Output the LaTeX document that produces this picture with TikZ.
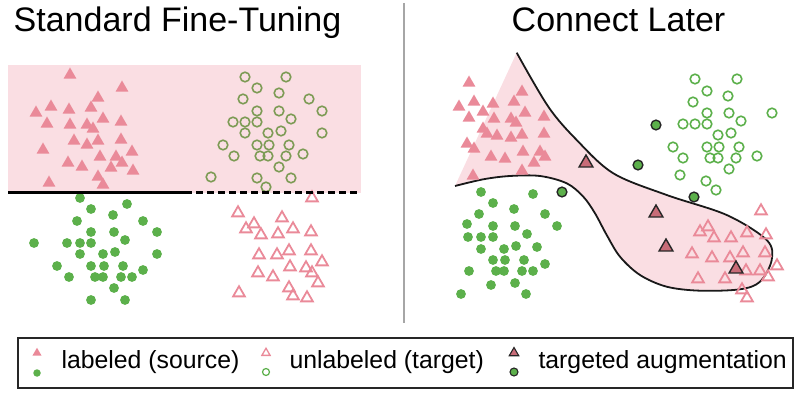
\documentclass[tikz,border=0pt]{standalone}
\usepackage{fontspec}
\setmainfont{Liberation Sans}
\usepackage{xcolor}
\usepackage{tikz}
\usetikzlibrary{shapes.geometric}

\definecolor{ptpink}{RGB}{234,138,153}
\definecolor{bgpink}{RGB}{250,222,227}
\definecolor{ptgreen}{RGB}{92,176,75}
\definecolor{ptolive}{RGB}{125,155,85}
\definecolor{augpink}{RGB}{200,108,120}

\begin{document}
\begin{tikzpicture}[x=1pt, y=-1pt,
  srctri/.style={regular polygon, regular polygon sides=3, fill=ptpink,
                 inner sep=0pt, minimum size=15pt},
  tgttri/.style={regular polygon, regular polygon sides=3, draw=ptpink,
                 line width=1.8pt, inner sep=0pt, minimum size=13.5pt},
  srcdot/.style={circle, fill=ptgreen, inner sep=0pt, minimum size=9.8pt},
  tgtdot/.style={circle, draw=ptgreen, line width=1.6pt, inner sep=0pt,
                 minimum size=9.6pt},
  augtri/.style={regular polygon, regular polygon sides=3, fill=augpink,
                 draw=black!85, line width=1.4pt, inner sep=0pt, minimum size=16pt},
  augdot/.style={circle, fill=ptgreen, draw=black!85, line width=1.4pt,
                 inner sep=0pt, minimum size=9.8pt},
  title/.style={font=\fontsize{34}{40}\selectfont, anchor=base},
  lgd/.style={font=\fontsize{24.8}{30}\selectfont, anchor=base west}
]
\useasboundingbox (0,0) rectangle (804,398);

% titles and divider
\node[title] (ttl) at (177.5,32) {Standard Fine-Tuning};
\node[title] (ttr) at (618.5,32) {Connect Later};
\draw[gray!70, line width=1.5pt] (404,3) -- (404,323);

% left panel: standard fine-tuning
\fill[bgpink] (8,65) rectangle (361,193);
\foreach \p [count=\i] in {(70,75),(122,88),(98,98),(36,113),(51,107),(69,110),
    (91,108),(47,124),(70,125),(87,125),(93,129),(103,119),(121,122),(74,141),
    (87,145),(98,141),(121,140),(43,150),(100,157),(116,157),(132,152),(68,163),
    (82,167),(111,168),(122,163),(133,171),(49,183),(98,177),(103,185)}
  \node[srctri] (lst\i) at \p {};
\foreach \p [count=\i] in {(245,77),(286,77),(257,88),(279,93),(243,99),(309,99),
    (257,111),(279,111),(322,111),(233,122),(245,122),(257,122),(291,119),
    (245,133),(268,133),(281,131),(322,133),(223,145),(257,145),(269,145),
    (289,145),(234,156),(260,156),(268,156),(286,156),(303,154),(279,167),
    (211,177),(257,178),(291,178),(266,187)}
  \node[tgtdot, draw=ptolive] (ltc\i) at \p {};
\foreach \p [count=\i] in {(80,198),(127,204),(91,209),(113,215),(77,221),(143,221),
    (91,232),(114,232),(157,232),(34,243),(67,243),(80,243),(91,243),(125,240),
    (80,254),(103,254),(115,252),(157,254),(57,266),(91,266),(104,266),(123,266),
    (143,270),(69,277),(95,277),(103,277),(121,277),(132,277),(114,288),
    (91,300),(125,300)}
  \node[srcdot] (lsc\i) at \p {};
\foreach \p [count=\i] in {(312,198),(238,213),(282,218),(254,224),(246,229),
    (261,235),(278,234),(293,229),(311,232),(259,255),(277,255),(289,251),
    (311,251),(322,262),(290,267),(306,268),(312,273),(258,273),(273,277),
    (318,283),(289,288),(239,293),(293,296),(307,298)}
  \node[tgttri] (ltt\i) at \p {};
\draw[line width=3pt] (8,193) -- (185,193);
\draw[line width=3pt, dash pattern=on 6.5pt off 4.5pt] (185,193) -- (361,193);

% right panel: connect later
\fill[bgpink] (455,186) -- plot[smooth, tension=0.55] coordinates {
    (516.7,52.7) (548.3,106.7) (576.7,140) (613.3,173.3) (666.7,195)
    (726.7,215) (766.7,240) (771.7,260) (760,281.7) (740,289.3) (700,290.7)
    (666.7,286.7) (640,275) (620,256.7) (606.7,235) (595,213.3) (583.3,196.7)
    (566.7,183.3) (540,176) (510,176) (483.3,179.3) (455,186)} -- cycle;
\draw[line width=1.8pt, black!90] plot[smooth, tension=0.55] coordinates {
    (516.7,52.7) (548.3,106.7) (576.7,140) (613.3,173.3) (666.7,195)
    (726.7,215) (766.7,240) (771.7,260) (760,281.7) (740,289.3) (700,290.7)
    (666.7,286.7) (640,275) (620,256.7) (606.7,235) (595,213.3) (583.3,196.7)
    (566.7,183.3) (540,176) (510,176) (483.3,179.3) (455,186)};
\foreach \p [count=\i] in {(469,83),(522,92),(474,102),(459,107),(493,104),
    (514,102),(483,112),(525,113),(469,118),(494,119),(511,119),(516,123),
    (544,117),(483,129),(487,134),(497,136),(511,138),(522,135),(544,134),
    (467,144),(474,149),(491,157),(505,159),(523,152),(540,152),(545,157),
    (534,163),(522,171),(473,176)}
  \node[srctri] (rst\i) at \p {};
\foreach \p [count=\i] in {(481,192),(533,194),(493,203),(514,209),(479,214),
    (545,214),(467,224),(493,226),(515,226),(557,226),(468,237),(481,237),
    (493,237),(527,234),(481,249),(504,249),(516,246),(537,247),(493,260),
    (505,260),(524,260),(545,264),(469,271),(496,271),(504,271),(522,271),
    (533,271),(515,283),(491,285),(461,294),(526,294)}
  \node[srcdot] (rsc\i) at \p {};
\foreach \p [count=\i] in {(695,79),(737,79),(707,91),(728,96),(693,102),
    (707,113),(729,113),(772,113),(683,124),(695,124),(707,124),(741,121),
    (718,135),(731,133),(673,147),(707,147),(719,147),(739,147),(683,158),
    (710,158),(718,158),(736,158),(757,156),(729,169),(680,175),(706,181),
    (716,190)}
  \node[tgtdot] (rtc\i) at \p {};
\foreach \p [count=\i] in {(761,211),(708,227),(700,232),(714,238),(731,238),
    (747,233),(766,235),(692,254),(712,258),(730,258),(743,253),(765,253),
    (777,266),(746,271),(760,271),(768,277),(698,279),(725,279),(742,290),
    (747,298)}
  \node[tgttri] (rtt\i) at \p {};
\foreach \p [count=\i] in {(586,163),(656,213),(666,247),(736,269)}
  \node[augtri] (rat\i) at \p {};
\foreach \p [count=\i] in {(656,125),(638,165),(562,192),(694,197)}
  \node[augdot] (rac\i) at \p {};

% legend
\draw[line width=1.6pt, black!85] (18,338) rectangle (793,388);
\node[srctri, minimum size=10.5pt] (kst) at (37,353) {};
\node[srcdot, minimum size=7.5pt] (ksc) at (37,373) {};
\node[lgd] (ksrc) at (58,369) {labeled (source)};
\node[tgttri, minimum size=9.5pt, line width=1.3pt] (ktt) at (266,353) {};
\node[tgtdot, minimum size=7pt, line width=1.2pt] (ktc) at (266,372) {};
\node[lgd] (ktgt) at (286,369) {unlabeled (target)};
\node[augtri, minimum size=11pt, line width=1.1pt] (kat) at (514,353) {};
\node[augdot, minimum size=8pt, line width=1.1pt] (kac) at (514,372) {};
\node[lgd] (kaug) at (535,369) {targeted augmentation};
\end{tikzpicture}
\end{document}
